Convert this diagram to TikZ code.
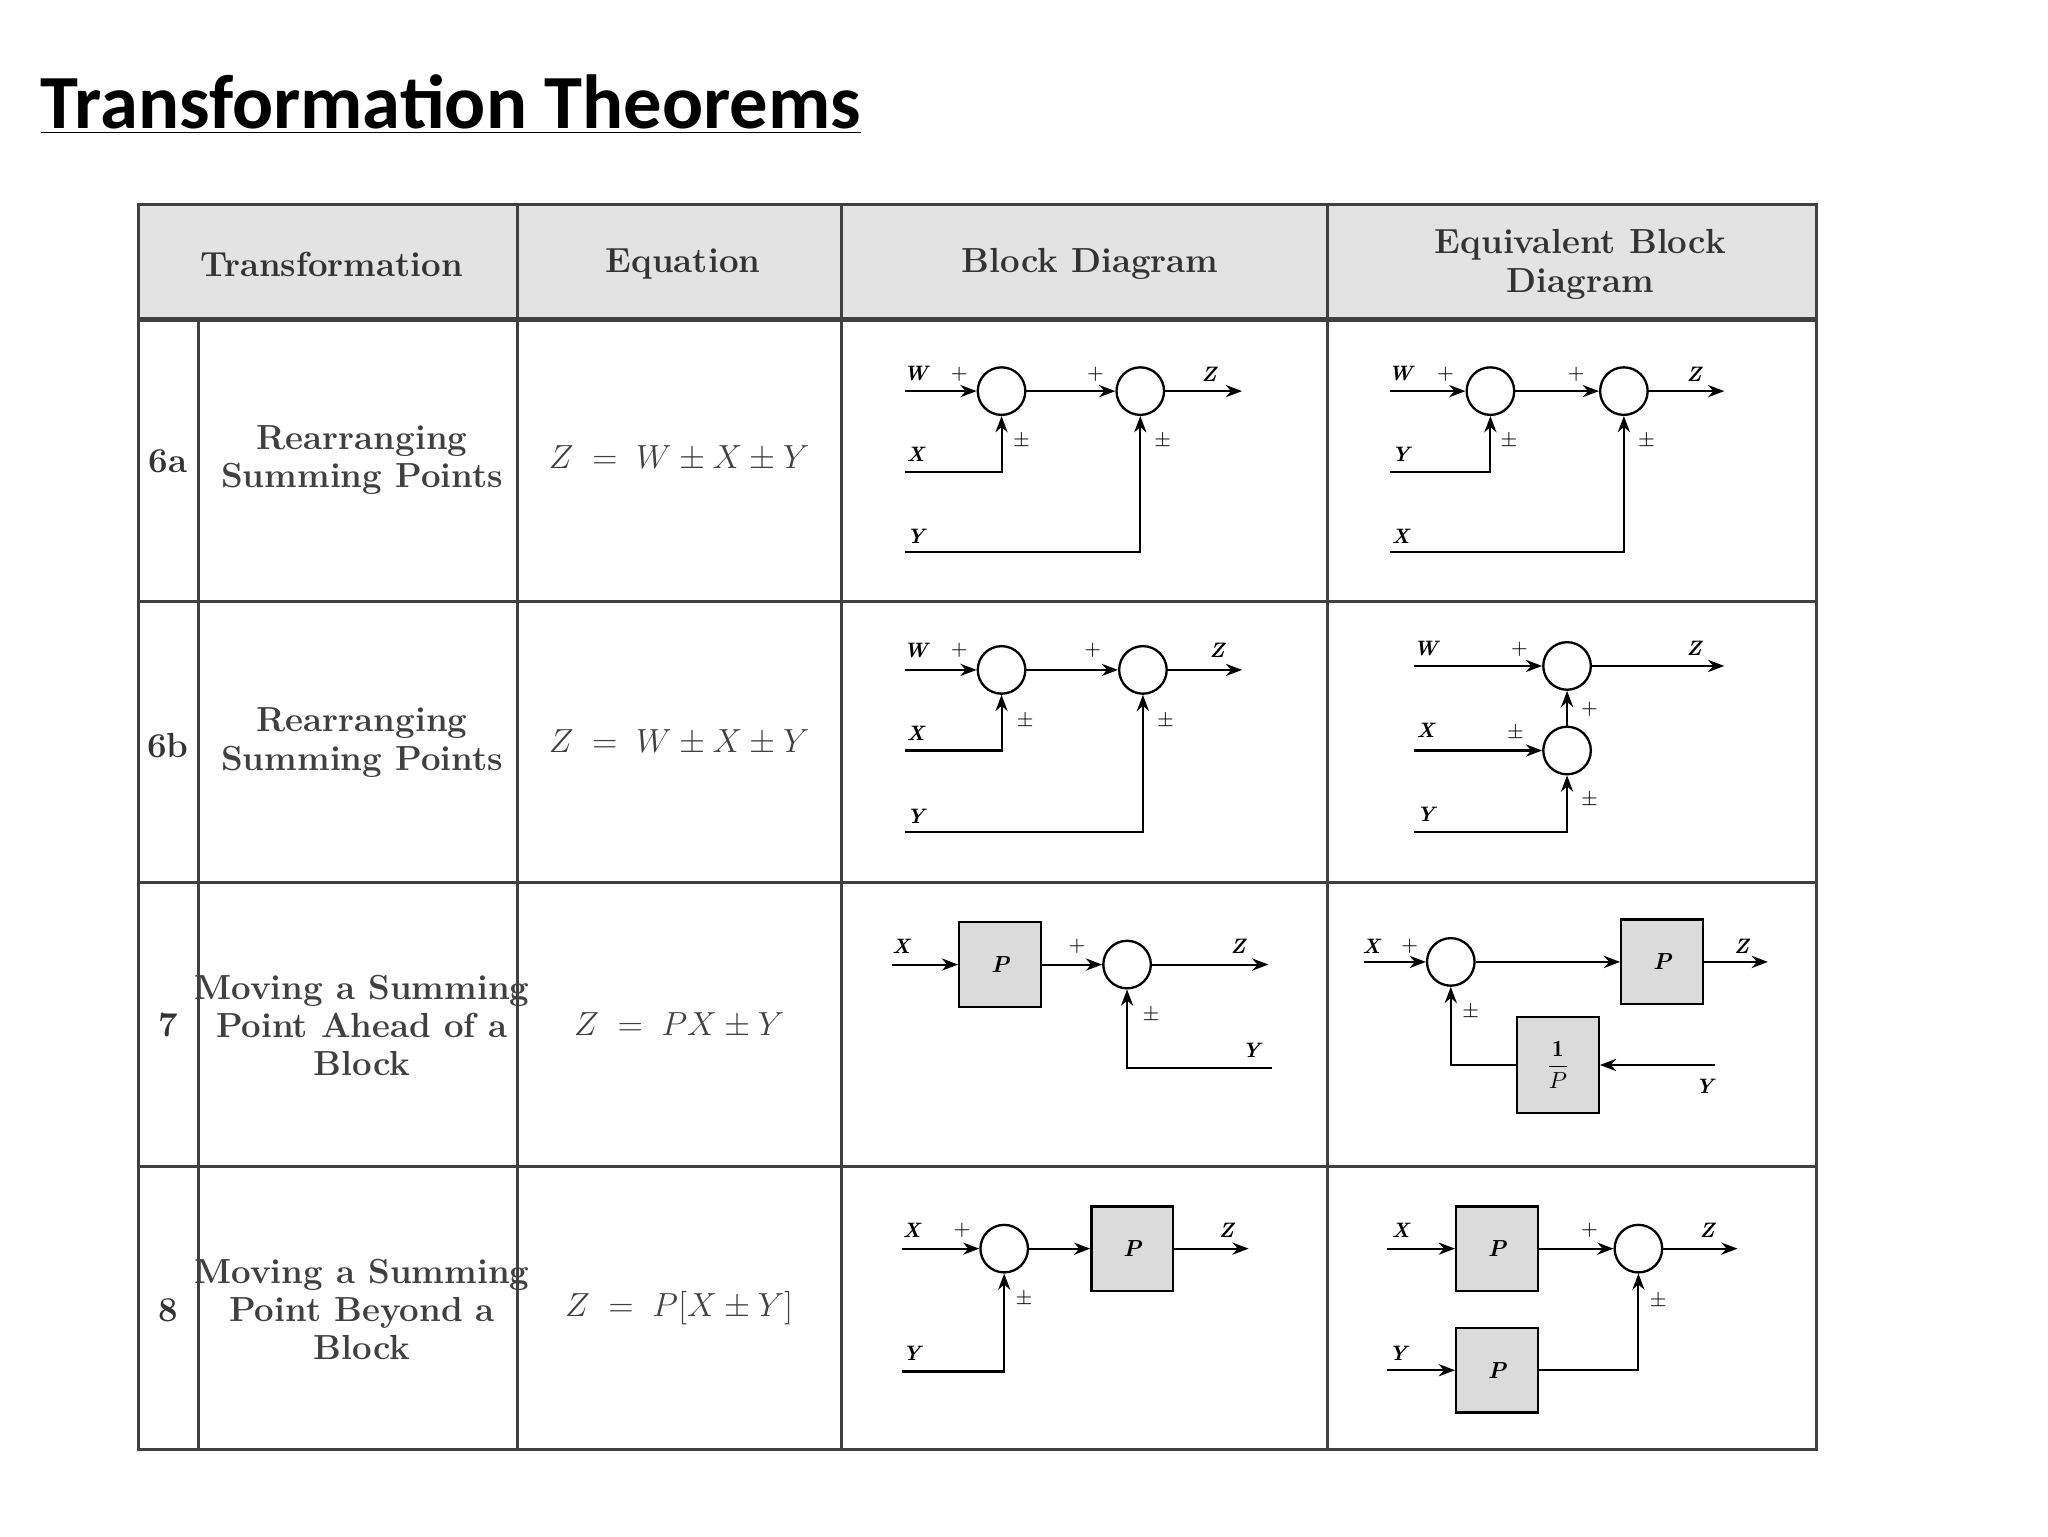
\documentclass[tikz,border=0pt]{standalone}
\usepackage{fontspec}
\newfontfamily\titlefont{Carlito}
\usetikzlibrary{arrows.meta}
\begin{document}
\begin{tikzpicture}[x=0.02cm,y=-0.02cm,line width=0.9pt,
 sj/.style={circle,draw,line width=1pt,minimum size=0.72cm,inner sep=0},
 blk/.style={draw,line width=1pt,fill=gray!28,minimum width=1.24cm,minimum height=1.28cm,font=\bfseries\itshape},
 lab/.style={font=\small\bfseries\itshape,inner sep=1pt},
 sg/.style={font=\small,inner sep=1pt},
 ar/.style={-{Stealth[length=7pt]}},
 tx/.style={font=\fontsize{15}{17}\selectfont\bfseries,align=center,text=black!80},
 rt/.style={font=\fontsize{15}{16.5}\selectfont\bfseries,align=center,text=black!75},
 grid/.style={line width=1.3pt,draw=black!75}]
\useasboundingbox (0,0) rectangle (1550,1162.5);
\node[anchor=base west,font=\titlefont\fontsize{33}{38}\selectfont\bfseries,inner sep=0] (title) at (30,97) {\underline{Transformation Theorems}};
% table
\fill[gray!22] (105,155) rectangle (1375,242);
\draw[grid] (105,155) rectangle (1375,1097);
\draw[grid,line width=2pt] (105,242) -- (1375,242);
\foreach \y in {455,668,883} \draw[grid] (105,\y) -- (1375,\y);
\foreach \x in {392,637,1005} \draw[grid] (\x,155) -- (\x,1097);
\draw[grid] (150,242) -- (150,1097);
\node[tx] (h1) at (251,200) {Transformation};
\node[tx] (h2) at (517,200) {Equation};
\node[tx] (h3) at (825,200) {Block Diagram};
\node[tx] (h4) at (1196,200) {Equivalent Block\\Diagram};
\node[tx] (n1) at (127,349) {6a};
\node[tx] (n2) at (127,564) {6b};
\node[tx] (n3) at (127,776) {7};
\node[tx] (n4) at (127,992) {8};
\node[rt] (t1) at (274,348) {Rearranging\\Summing Points};
\node[rt] (t2) at (274,562) {Rearranging\\Summing Points};
\node[rt] (t3) at (274,776) {Moving a Summing\\Point Ahead of a\\Block};
\node[rt] (t4) at (274,991) {Moving a Summing\\Point Beyond a\\Block};
\node[rt] (e1) at (514,347) {$Z\;=\;W\pm X\pm Y$};
\node[rt] (e2) at (514,562) {$Z\;=\;W\pm X\pm Y$};
\node[rt] (e3) at (514,776) {$Z\;=\;PX\pm Y$};
\node[rt] (e4) at (514,990) {$Z\;=\;P[X\pm Y]$};
% ---- 6a block
\node[sj] (a1) at (758,296) {}; \node[sj] (a2) at (863,296) {};
\coordinate (aw) at (685,296); \coordinate (az) at (940,296);
\coordinate (ax) at (685,357); \coordinate (ay) at (685,418);
\draw[ar] (aw) -- (a1); \draw[ar] (a1) -- (a2); \draw[ar] (a2) -- (az);
\draw[ar] (ax) -| (a1.south); \draw[ar] (ay) -| (a2.south);
\node[lab] at (693,283) {W}; \node[sg] at (726,283) {+}; \node[sg] at (829,283) {+}; \node[lab] at (915,283) {Z};
\node[lab] at (693,344) {X}; \node[lab] at (693,406) {Y};
\node[sg] at (773,334) {$\pm$}; \node[sg] at (880,334) {$\pm$};
% ---- 6a equiv
\node[sj] (b1) at (1128,296) {}; \node[sj] (b2) at (1229,296) {};
\coordinate (bw) at (1052,296); \coordinate (bz) at (1305,296);
\coordinate (by) at (1052,357); \coordinate (bx) at (1052,418);
\draw[ar] (bw) -- (b1); \draw[ar] (b1) -- (b2); \draw[ar] (b2) -- (bz);
\draw[ar] (by) -| (b1.south); \draw[ar] (bx) -| (b2.south);
\node[lab] at (1060,283) {W}; \node[sg] at (1094,283) {+}; \node[sg] at (1193,283) {+}; \node[lab] at (1282,283) {Z};
\node[lab] at (1060,344) {Y}; \node[lab] at (1060,406) {X};
\node[sg] at (1142,334) {$\pm$}; \node[sg] at (1246,334) {$\pm$};
% ---- 6b block
\node[sj] (c1) at (758,507) {}; \node[sj] (c2) at (865,507) {};
\coordinate (cw) at (685,507); \coordinate (cz) at (940,507);
\coordinate (cx) at (685,568); \coordinate (cy) at (685,630);
\draw[ar] (cw) -- (c1); \draw[ar] (c1) -- (c2); \draw[ar] (c2) -- (cz);
\draw[ar] (cx) -| (c1.south); \draw[ar] (cy) -| (c2.south);
\node[lab] at (693,492) {W}; \node[sg] at (726,492) {+}; \node[sg] at (827,492) {+}; \node[lab] at (921,492) {Z};
\node[lab] at (693,555) {X}; \node[lab] at (693,618) {Y};
\node[sg] at (776,546) {$\pm$}; \node[sg] at (882,546) {$\pm$};
% ---- 6b equiv
\node[sj] (d1) at (1186,504) {}; \node[sj] (d2) at (1186,568) {};
\coordinate (dw) at (1070,504); \coordinate (dz) at (1305,504);
\coordinate (dx) at (1070,568); \coordinate (dy) at (1070,630);
\draw[ar] (dw) -- (d1); \draw[ar] (d1) -- (dz);
\draw[ar] (dx) -- (d2); \draw[ar] (d2) -- (d1); \draw[ar] (dy) -| (d2.south);
\node[lab] at (1079,491) {W}; \node[sg] at (1150,491) {+}; \node[lab] at (1282,491) {Z};
\node[lab] at (1079,553) {X}; \node[sg] at (1147,555) {$\pm$}; \node[sg] at (1203,537) {+};
\node[lab] at (1079,616) {Y}; \node[sg] at (1203,606) {$\pm$};
% ---- 7 block
\node[blk] (p1) at (757,730) {P}; \node[sj] (e1s) at (853,730) {};
\coordinate (ex) at (675,730); \coordinate (ez) at (960,730); \coordinate (ey) at (963,808);
\draw[ar] (ex) -- (p1); \draw[ar] (p1) -- (e1s); \draw[ar] (e1s) -- (ez);
\draw[ar] (ey) -| (e1s.south);
\node[lab] at (682,716) {X}; \node[sg] at (815,716) {+}; \node[lab] at (937,716) {Z};
\node[lab] at (947,795) {Y}; \node[sg] at (871,768) {$\pm$};
% ---- 7 equiv
\node[sj] (f1) at (1098,728) {}; \node[blk] (p2) at (1258,728) {P};
\node[blk,minimum height=1.46cm] (pi) at (1179,806) {$\displaystyle\frac{\mathbf{1}}{P}$};
\coordinate (fx) at (1032,728); \coordinate (fz) at (1338,728); \coordinate (fy) at (1298,806);
\draw[ar] (fx) -- (f1); \draw[ar] (f1) -- (p2); \draw[ar] (p2) -- (fz);
\draw[ar] (fy) -- (pi); \draw[ar] (pi.west) -| (f1.south);
\node[lab] at (1038,716) {X}; \node[sg] at (1067,716) {+}; \node[lab] at (1318,716) {Z};
\node[lab] at (1290,822) {Y}; \node[sg] at (1113,766) {$\pm$};
% ---- 8 block
\node[sj] (g1) at (760,945) {}; \node[blk] (p3) at (857,945) {P};
\coordinate (gx) at (683,945); \coordinate (gz) at (945,945); \coordinate (gy) at (683,1038);
\draw[ar] (gx) -- (g1); \draw[ar] (g1) -- (p3); \draw[ar] (p3) -- (gz);
\draw[ar] (gy) -| (g1.south);
\node[lab] at (690,931) {X}; \node[sg] at (728,931) {+}; \node[lab] at (928,931) {Z};
\node[lab] at (690,1024) {Y}; \node[sg] at (775,983) {$\pm$};
% ---- 8 equiv
\node[blk] (p4) at (1133,945) {P}; \node[blk] (p5) at (1133,1037) {P}; \node[sj] (h1s) at (1240,945) {};
\coordinate (hx) at (1050,945); \coordinate (hz) at (1315,945); \coordinate (hy) at (1050,1037);
\draw[ar] (hx) -- (p4); \draw[ar] (p4) -- (h1s); \draw[ar] (h1s) -- (hz);
\draw[ar] (hy) -- (p5); \draw[ar] (p5) -| (h1s.south);
\node[lab] at (1060,931) {X}; \node[sg] at (1203,931) {+}; \node[lab] at (1292,931) {Z};
\node[lab] at (1058,1024) {Y}; \node[sg] at (1255,985) {$\pm$};
\end{tikzpicture}
\end{document}
